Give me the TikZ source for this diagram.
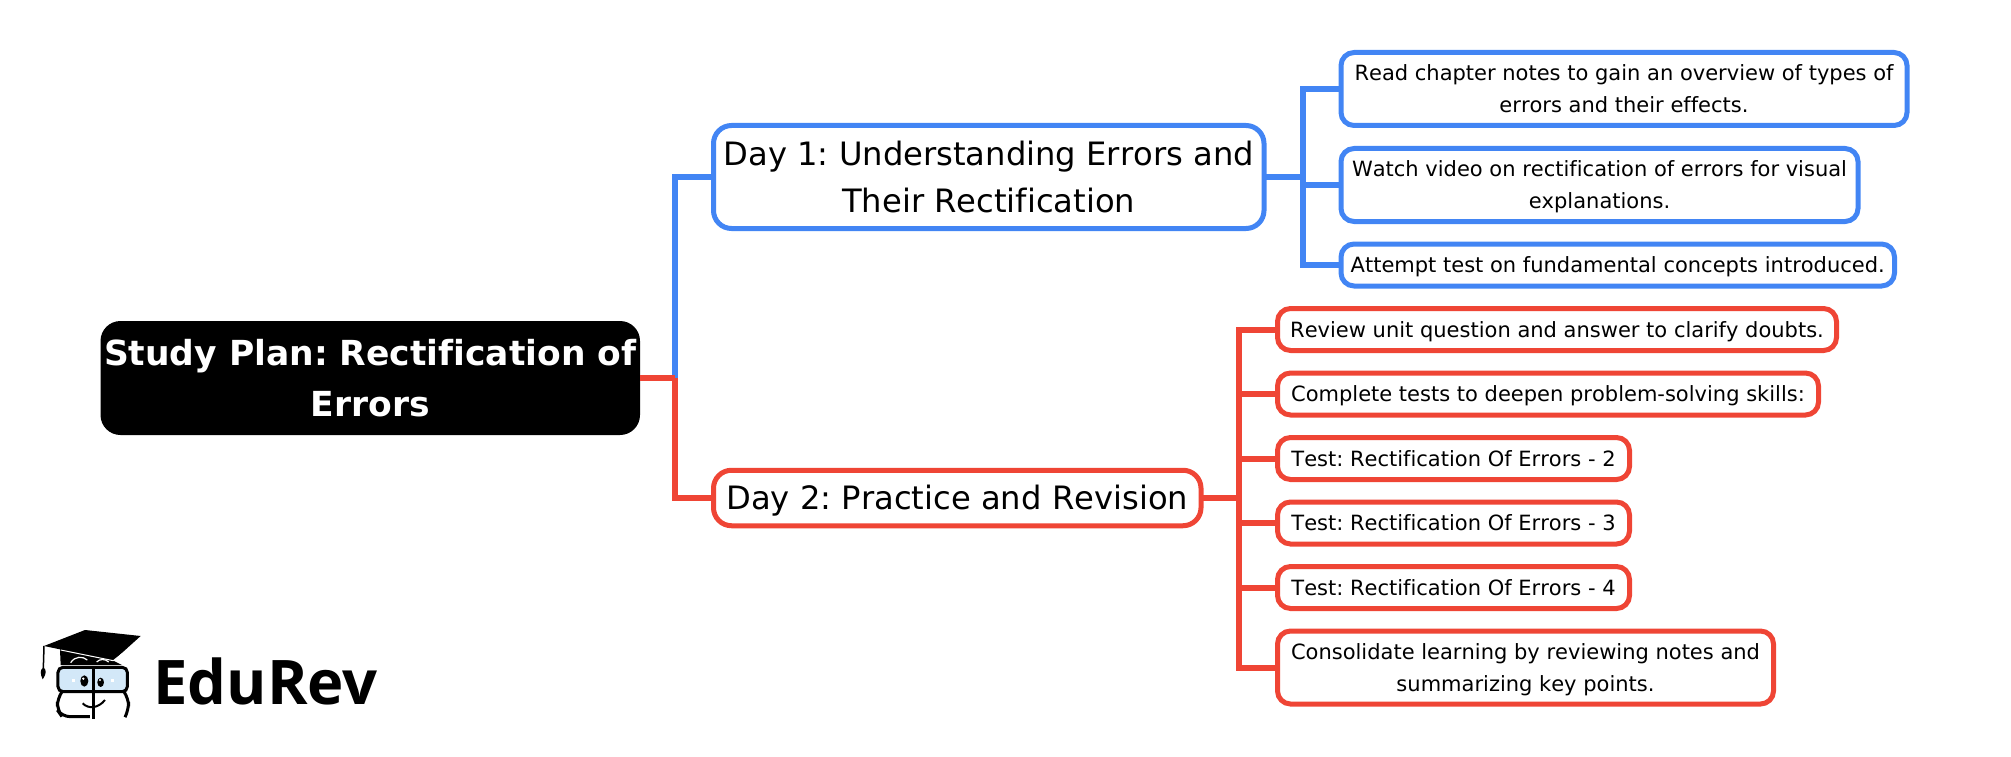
\documentclass[tikz,border=0pt]{standalone}
\usepackage{fontspec}
\setmainfont{DejaVu Sans}[Ligatures=NoCommon,Kerning=Off]
\newfontfamily\logofont{Open Sans}
\usetikzlibrary{positioning}
\definecolor{planblue}{HTML}{4285F4}
\definecolor{planred}{HTML}{EF4535}
\definecolor{lensblue}{HTML}{D3E8F8}
\newcommand{\ls}{\rule[-6pt]{0pt}{27.4pt}}
\newcommand{\ds}{\rule[-10pt]{0pt}{43.4pt}}
\frenchspacing

\begin{document}
\begin{tikzpicture}[
	x=1pt,
	y=-1pt,
	node distance=22.5pt,
	line join=miter,
	root node/.style={rectangle,rounded corners=20pt,fill=black,text=white,align=center,inner sep=0pt,outer sep=0pt,minimum width=539.5pt,minimum height=114pt,font=\fontsize{34.5}{51}\selectfont\bfseries},
	day node/.style={rectangle,rounded corners=18pt,draw,fill=white,line width=5pt,align=center,inner sep=0pt,outer sep=0pt,minimum height=55.5pt,font=\fontsize{32.2}{47}\selectfont},
	leaf node/.style={rectangle,rounded corners=13pt,draw,fill=white,line width=5pt,align=center,inner sep=0pt,outer sep=0pt,minimum height=42pt,font=\fontsize{21}{32}\selectfont},
	tall/.style={minimum height=73pt},
	blue link/.style={draw=planblue,line width=6pt},
	red link/.style={draw=planred,line width=6pt},
	elbow/.style={to path={|- (\tikztotarget)}}
]
\useasboundingbox (0,0) rectangle (2011,757);

\node[root node] (root) at (370.25,378) {Study Plan: Rectification of\\Errors};

\node[day node,draw=planblue,tall,minimum height=103pt,minimum width=550.5pt] (d1) [right=73.5pt of root,yshift=201pt] {\ds Day 1: Understanding Errors and\\Their Rectification\ds};
\node[day node,draw=planred,minimum width=487.5pt] (d2) [right=73.5pt of root,yshift=-120pt] {\ds Day 2: Practice and Revision};

\node[leaf node,draw=planblue,tall,minimum width=566pt] (b1) [right=77pt of d1,yshift=88pt] {\ls Read chapter notes to gain an overview of types of\\errors and their effects.\ls};
\node[leaf node,draw=planblue,tall,minimum width=517pt] (b2) [right=77pt of d1,yshift=-8pt] {\ls Watch video on rectification of errors for visual\\explanations.\ls};
\node[leaf node,draw=planblue,minimum width=553.5pt] (b3) [right=77pt of d1,yshift=-88pt] {\ls Attempt test on fundamental concepts introduced.};

\node[leaf node,draw=planred,minimum width=559pt] (r1) [right=76.5pt of d2,yshift=168.5pt] {\ls Review unit question and answer to clarify doubts.};
\node[leaf node,draw=planred,minimum width=541pt] (r2) [below=of r1.south west,anchor=north west] {\ls Complete tests to deepen problem-solving skills:};
\node[leaf node,draw=planred,minimum width=352pt] (r3) [below=of r2.south west,anchor=north west] {\ls Test: Rectification Of Errors - 2};
\node[leaf node,draw=planred,minimum width=352pt] (r4) [below=of r3.south west,anchor=north west] {\ls Test: Rectification Of Errors - 3};
\node[leaf node,draw=planred,minimum width=352pt] (r5) [below=of r4.south west,anchor=north west] {\ls Test: Rectification Of Errors - 4};
\node[leaf node,draw=planred,tall,minimum width=496pt] (r6) [below=of r5.south west,anchor=north west] {\ls Consolidate learning by reviewing notes and\\summarizing key points.\ls};

\coordinate [right=35pt of root] (root bus);
\coordinate [right=39pt of d1] (blue bus);
\coordinate [right=38pt of d2] (red bus);

\path[blue link]
(root bus) edge[elbow] (d1.west)
(d1.east) edge (blue bus)
(blue bus) edge[elbow] (b1.west)
(blue bus) edge[elbow] (b2.west)
(blue bus) edge[elbow] (b3.west)
;
\path[red link]
(root.east) edge (root bus)
(root bus) edge[elbow] (d2.west)
(d2.east) edge (red bus)
(red bus) edge[elbow] (r1.west)
(red bus) edge[elbow] (r2.west)
(red bus) edge[elbow] (r3.west)
(red bus) edge[elbow] (r4.west)
(red bus) edge[elbow] (r5.west)
(red bus) edge[elbow] (r6.west)
;

\node (brand) at (265.5,681.5) {\fontsize{61.5}{62}\selectfont\logofont\bfseries EduRev};

% logo
\begin{scope}[shift={(30,620)},x=.3333pt,y=-.3333pt]
\fill[black] (42,78) -- (165,30) -- (332,48) -- (250,122) -- (276,135) -- (92,135) -- (90,88) -- cycle;
\draw[white,line width=1pt] (92,90) -- (250,122) -- (278,100);
\draw[black,line width=1.5pt] (42,78) -- (40,145);
\fill[black] (40,142) .. controls (30,150) and (30,160) .. (38,178) .. controls (50,160) and (50,150) .. (40,142) -- cycle;
\draw[white,line width=1.2pt] (122,128) .. controls (135,108) and (158,108) .. (172,120);
\draw[white,line width=1.2pt] (200,126) .. controls (210,116) and (225,116) .. (236,126);
\draw[black,line width=3pt,fill=lensblue,rounded corners=5pt] (84,142) rectangle (292,215);
\draw[black,line width=3pt,rounded corners=8pt] (180,290) -- (96,290) -- (82,270) -- (82,235) -- (94,218);
\draw[black,line width=3pt,rounded corners=8pt] (284,218) -- (296,235) -- (296,270) -- (286,290);
\draw[black,line width=3pt] (190,138) -- (190,296);
\fill[black] (163,183) ellipse [x radius=12,y radius=17];
\fill[black] (212,187) ellipse [x radius=10,y radius=14];
\fill[white] (160,176) circle [radius=4];
\fill[white] (210,180) circle [radius=3.5];
\fill[white] (127,176) rectangle (136,185);
\fill[white] (244,176) rectangle (253,185);
\draw[black,line width=2pt] (158,250) .. controls (175,268) and (205,265) .. (225,240);
\end{scope}
\end{tikzpicture}
\end{document}
